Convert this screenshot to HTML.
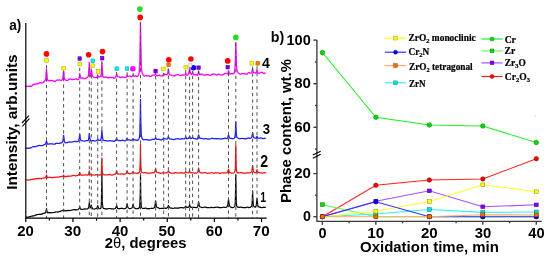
<!DOCTYPE html><html><head><meta charset="utf-8"><style>html,body{margin:0;padding:0;background:#fff;}svg{display:block;}</style></head><body><svg width="550" height="258" viewBox="0 0 550 258">
<rect width="550" height="258" fill="#fff"/>
<g fill="none" stroke-width="1.2" stroke-linejoin="round">
<path stroke="#000" stroke-width="1.2" d="M25.80,217.21 L26.30,217.16 L26.80,217.10 L27.30,217.22 L27.80,217.24 L28.30,217.20 L28.80,216.89 L29.30,216.81 L29.80,216.64 L30.30,216.70 L30.80,216.53 L31.30,216.18 L31.80,216.21 L32.30,216.07 L32.80,215.94 L33.30,215.94 L33.80,215.83 L34.30,215.72 L34.80,215.65 L35.30,215.29 L35.80,215.07 L36.30,214.88 L36.80,214.68 L37.30,214.64 L37.80,214.50 L38.30,214.46 L38.80,214.29 L39.30,214.32 L39.80,214.33 L40.30,214.42 L40.80,214.33 L41.30,214.13 L41.80,214.08 L42.30,213.85 L42.80,213.64 L43.30,213.49 L43.80,213.31 L44.30,213.20 L44.80,213.08 L45.30,212.75 L45.80,212.19 L46.30,209.52 L46.50,208.68 L46.80,210.36 L47.30,212.30 L47.80,212.85 L48.30,212.81 L48.80,212.50 L49.30,212.50 L49.80,212.71 L50.30,212.67 L50.80,212.84 L51.30,212.71 L51.80,212.61 L52.30,212.73 L52.80,212.77 L53.30,212.64 L53.80,212.53 L54.30,212.44 L54.80,212.40 L55.30,212.17 L55.80,211.92 L56.30,211.96 L56.80,211.98 L57.30,211.99 L57.80,212.12 L58.30,211.84 L58.80,211.79 L59.30,211.62 L59.80,211.44 L60.30,211.43 L60.80,211.10 L61.30,211.02 L61.80,210.72 L62.30,210.67 L62.80,210.47 L63.30,209.84 L63.60,209.38 L63.80,209.84 L64.30,210.76 L64.80,210.83 L65.30,210.94 L65.80,210.72 L66.30,210.72 L66.80,210.79 L67.30,210.68 L67.80,210.46 L68.30,210.59 L68.80,210.37 L69.30,210.42 L69.80,210.62 L70.30,210.53 L70.80,210.44 L71.30,210.20 L71.80,209.99 L72.30,209.92 L72.80,209.74 L73.30,209.78 L73.80,209.71 L74.30,209.71 L74.80,209.81 L75.30,209.71 L75.80,209.80 L76.30,209.96 L76.80,209.83 L77.30,209.75 L77.80,209.74 L78.30,209.43 L78.80,208.89 L79.30,207.91 L79.70,206.74 L79.80,206.94 L80.30,208.67 L80.80,209.05 L81.30,209.38 L81.80,209.41 L82.30,209.37 L82.80,209.35 L83.30,209.26 L83.80,209.15 L84.30,209.21 L84.80,208.85 L85.30,208.84 L85.80,208.73 L86.30,208.94 L86.80,208.98 L87.30,208.92 L87.80,208.73 L88.30,208.34 L88.80,206.44 L89.30,202.69 L89.80,206.33 L90.30,207.80 L90.80,207.30 L91.30,205.14 L91.80,207.34 L92.30,208.30 L92.80,208.87 L93.30,208.95 L93.80,209.01 L94.30,209.06 L94.80,208.99 L95.30,208.76 L95.80,208.65 L96.30,208.54 L96.80,208.24 L97.30,207.01 L97.70,205.59 L97.80,205.71 L98.30,207.69 L98.80,208.38 L99.30,208.60 L99.80,208.75 L100.30,208.65 L100.80,207.99 L101.30,205.54 L101.80,181.01 L101.90,174.01 L102.30,202.14 L102.80,207.34 L103.30,208.34 L103.80,208.42 L104.30,208.68 L104.80,208.70 L105.30,208.83 L105.80,208.83 L106.30,209.08 L106.80,208.87 L107.30,208.88 L107.80,208.75 L108.30,208.62 L108.80,208.49 L109.30,208.49 L109.80,208.58 L110.30,208.69 L110.80,208.62 L111.30,208.76 L111.80,208.88 L112.30,208.96 L112.80,208.93 L113.30,209.03 L113.80,208.96 L114.30,208.71 L114.80,208.50 L115.30,208.21 L115.80,207.82 L116.30,206.44 L116.60,205.55 L116.80,205.97 L117.30,207.87 L117.80,208.52 L118.30,208.65 L118.80,208.67 L119.30,208.61 L119.80,208.67 L120.30,208.55 L120.80,208.39 L121.30,208.38 L121.80,208.19 L122.30,208.45 L122.80,208.45 L123.30,208.74 L123.80,208.78 L124.30,208.69 L124.80,208.70 L125.30,208.50 L125.80,208.25 L126.30,207.59 L126.80,205.15 L127.10,203.77 L127.30,204.35 L127.80,206.95 L128.30,207.91 L128.80,208.18 L129.30,208.42 L129.80,208.74 L130.30,208.69 L130.80,208.50 L131.30,208.37 L131.80,207.90 L132.30,207.32 L132.80,205.30 L133.10,204.20 L133.30,204.80 L133.80,207.12 L134.30,207.92 L134.80,208.24 L135.30,208.36 L135.80,208.63 L136.30,208.72 L136.80,208.71 L137.30,208.70 L137.80,208.60 L138.30,208.40 L138.80,208.14 L139.30,207.78 L139.80,206.03 L140.30,191.57 L140.50,174.30 L140.80,198.21 L141.30,206.60 L141.80,207.82 L142.30,208.28 L142.80,208.51 L143.30,208.50 L143.80,208.37 L144.30,208.35 L144.80,208.29 L145.30,208.16 L145.80,208.18 L146.30,208.31 L146.80,208.64 L147.30,208.51 L147.80,208.71 L148.30,208.72 L148.80,208.71 L149.30,208.85 L149.80,208.62 L150.30,208.53 L150.80,208.45 L151.30,208.22 L151.80,208.37 L152.30,208.27 L152.80,208.30 L153.30,208.24 L153.80,208.18 L154.30,207.65 L154.80,206.50 L155.30,202.99 L155.60,200.80 L155.80,201.97 L156.30,205.99 L156.80,207.22 L157.30,207.50 L157.80,207.74 L158.30,207.85 L158.80,208.03 L159.30,208.37 L159.80,208.58 L160.30,208.49 L160.80,208.46 L161.30,208.38 L161.80,208.40 L162.30,208.33 L162.80,208.33 L163.30,208.32 L163.80,208.16 L164.30,208.21 L164.80,208.25 L165.30,208.12 L165.80,208.39 L166.30,208.33 L166.80,208.03 L167.30,207.76 L167.80,207.05 L168.30,205.60 L168.40,205.38 L168.80,206.37 L169.30,207.38 L169.80,207.80 L170.30,207.94 L170.80,208.07 L171.30,208.06 L171.80,208.23 L172.30,208.25 L172.80,208.43 L173.30,208.40 L173.80,208.22 L174.30,208.08 L174.80,207.85 L175.30,208.01 L175.80,208.09 L176.30,208.15 L176.80,208.06 L177.30,208.10 L177.80,207.95 L178.30,208.08 L178.80,208.07 L179.30,207.91 L179.80,207.75 L180.30,207.69 L180.80,207.57 L181.30,207.57 L181.80,207.56 L182.30,207.60 L182.80,207.93 L183.30,207.83 L183.80,207.99 L184.30,207.74 L184.80,207.55 L185.30,206.97 L185.70,206.13 L185.80,206.11 L186.30,207.06 L186.80,207.42 L187.30,207.45 L187.80,207.42 L188.30,207.31 L188.80,207.09 L189.30,205.61 L189.60,204.52 L189.80,205.24 L190.30,206.80 L190.80,207.22 L191.30,207.35 L191.80,207.29 L192.30,207.40 L192.80,207.38 L193.30,207.32 L193.80,207.38 L194.30,207.34 L194.80,207.38 L195.30,207.55 L195.80,207.77 L196.30,207.77 L196.80,207.41 L197.30,207.13 L197.80,206.23 L198.30,203.53 L198.60,201.96 L198.80,202.79 L199.30,205.65 L199.80,206.72 L200.30,207.04 L200.80,207.21 L201.30,207.20 L201.80,207.55 L202.30,207.53 L202.80,207.50 L203.30,207.50 L203.80,207.29 L204.30,207.15 L204.80,207.16 L205.30,207.08 L205.80,207.32 L206.30,207.40 L206.80,207.61 L207.30,207.66 L207.80,207.58 L208.30,207.71 L208.80,207.68 L209.30,207.74 L209.80,207.73 L210.30,207.59 L210.80,207.36 L211.30,207.28 L211.80,207.30 L212.30,207.51 L212.80,207.66 L213.30,207.48 L213.80,207.60 L214.30,207.37 L214.80,207.38 L215.30,207.37 L215.80,207.44 L216.30,207.27 L216.80,207.17 L217.30,207.18 L217.80,207.10 L218.30,207.40 L218.80,207.45 L219.30,207.70 L219.80,207.70 L220.30,207.65 L220.80,207.66 L221.30,207.58 L221.80,207.53 L222.30,207.50 L222.80,207.45 L223.30,207.26 L223.80,207.20 L224.30,207.28 L224.80,207.34 L225.30,207.39 L225.80,207.48 L226.30,207.28 L226.80,206.99 L227.30,206.19 L227.80,204.78 L228.30,200.56 L228.50,199.33 L228.80,201.66 L229.30,205.15 L229.80,206.31 L230.30,206.92 L230.80,207.02 L231.30,207.44 L231.80,207.60 L232.30,207.53 L232.80,207.53 L233.30,207.48 L233.80,207.11 L234.30,206.72 L234.80,206.19 L235.30,202.94 L235.80,174.83 L236.30,203.10 L236.80,206.13 L237.30,206.87 L237.80,207.21 L238.30,207.21 L238.80,207.32 L239.30,207.41 L239.80,207.36 L240.30,207.25 L240.80,206.99 L241.30,207.14 L241.80,207.34 L242.30,207.45 L242.80,207.61 L243.30,207.55 L243.80,207.55 L244.30,207.57 L244.80,207.58 L245.30,207.70 L245.80,207.62 L246.30,207.50 L246.80,207.25 L247.30,207.17 L247.80,207.18 L248.30,207.43 L248.80,207.56 L249.30,207.58 L249.80,207.31 L250.30,207.14 L250.80,207.14 L251.30,206.67 L251.80,205.76 L252.30,200.10 L252.60,190.92 L252.80,196.83 L253.30,205.10 L253.80,206.34 L254.30,206.80 L254.80,206.89 L255.30,207.11 L255.80,206.82 L256.30,205.26 L256.80,200.23 L257.00,198.52 L257.30,201.59 L257.80,205.50 L258.30,206.53 L258.80,206.90 L259.30,207.12 L259.80,207.05 L260.30,207.30 L260.80,207.36 L261.30,207.46 L261.80,207.61 L262.30,207.58 L262.80,207.46 L263.30,207.37 L263.80,207.22 L264.30,207.28 L264.80,207.28 L265.30,207.24 L265.80,207.49"/>
<path stroke="#ff1010" stroke-width="1.25" d="M25.80,179.80 L26.30,179.82 L26.80,179.82 L27.30,180.05 L27.80,180.14 L28.30,180.18 L28.80,180.12 L29.30,180.00 L29.80,179.69 L30.30,179.62 L30.80,179.46 L31.30,179.59 L31.80,179.32 L32.30,179.42 L32.80,179.16 L33.30,179.26 L33.80,179.18 L34.30,179.21 L34.80,179.27 L35.30,178.94 L35.80,178.74 L36.30,178.73 L36.80,178.48 L37.30,178.34 L37.80,178.59 L38.30,178.63 L38.80,178.46 L39.30,178.54 L39.80,178.49 L40.30,178.57 L40.80,178.69 L41.30,178.56 L41.80,178.58 L42.30,178.24 L42.80,178.06 L43.30,178.07 L43.80,177.92 L44.30,177.94 L44.80,177.96 L45.30,177.78 L45.80,177.26 L46.30,175.57 L46.50,175.14 L46.80,176.09 L47.30,177.33 L47.80,177.60 L48.30,177.53 L48.80,177.35 L49.30,177.25 L49.80,177.29 L50.30,177.36 L50.80,177.37 L51.30,177.56 L51.80,177.67 L52.30,177.70 L52.80,177.70 L53.30,177.55 L53.80,177.38 L54.30,177.52 L54.80,177.34 L55.30,177.25 L55.80,177.06 L56.30,177.05 L56.80,177.07 L57.30,177.24 L57.80,177.15 L58.30,177.24 L58.80,177.04 L59.30,176.98 L59.80,176.65 L60.30,176.60 L60.80,176.57 L61.30,176.61 L61.80,176.42 L62.30,176.43 L62.80,176.20 L63.30,175.59 L63.60,175.18 L63.80,175.51 L64.30,176.61 L64.80,176.74 L65.30,176.83 L65.80,176.49 L66.30,176.51 L66.80,176.28 L67.30,176.21 L67.80,176.34 L68.30,176.37 L68.80,176.10 L69.30,176.11 L69.80,176.21 L70.30,176.11 L70.80,176.07 L71.30,175.93 L71.80,175.77 L72.30,175.70 L72.80,175.62 L73.30,175.56 L73.80,175.48 L74.30,175.46 L74.80,175.62 L75.30,175.77 L75.80,175.77 L76.30,175.70 L76.80,175.59 L77.30,175.62 L77.80,175.49 L78.30,175.29 L78.80,174.76 L79.30,173.85 L79.70,172.43 L79.80,172.66 L80.30,174.16 L80.80,174.83 L81.30,175.22 L81.80,175.15 L82.30,175.27 L82.80,175.09 L83.30,175.08 L83.80,175.05 L84.30,174.89 L84.80,174.84 L85.30,174.75 L85.80,174.81 L86.30,174.84 L86.80,174.83 L87.30,175.13 L87.80,175.03 L88.30,174.68 L88.80,173.48 L89.30,170.76 L89.80,173.43 L90.30,174.47 L90.80,174.81 L91.30,174.98 L91.80,175.00 L92.30,174.94 L92.80,174.89 L93.30,175.02 L93.80,175.21 L94.30,175.24 L94.80,175.14 L95.30,174.95 L95.80,174.79 L96.30,174.77 L96.80,174.70 L97.30,174.62 L97.80,174.85 L98.30,174.95 L98.80,174.95 L99.30,175.02 L99.80,175.08 L100.30,175.00 L100.80,174.85 L101.30,173.56 L101.80,161.36 L101.90,157.93 L102.30,171.56 L102.80,174.02 L103.30,174.60 L103.80,174.74 L104.30,174.85 L104.80,174.94 L105.30,174.83 L105.80,174.91 L106.30,174.95 L106.80,174.89 L107.30,174.85 L107.80,174.81 L108.30,174.67 L108.80,174.63 L109.30,174.44 L109.80,174.49 L110.30,174.68 L110.80,174.91 L111.30,175.02 L111.80,175.01 L112.30,175.03 L112.80,174.83 L113.30,174.69 L113.80,174.72 L114.30,174.58 L114.80,174.29 L115.30,174.07 L115.80,173.39 L116.30,171.79 L116.60,170.91 L116.80,171.42 L117.30,173.51 L117.80,173.94 L118.30,174.17 L118.80,174.11 L119.30,174.00 L119.80,173.99 L120.30,173.91 L120.80,174.05 L121.30,173.91 L121.80,173.92 L122.30,173.80 L122.80,173.95 L123.30,174.12 L123.80,174.30 L124.30,174.19 L124.80,174.13 L125.30,174.00 L125.80,173.68 L126.30,173.01 L126.80,171.75 L127.10,170.94 L127.30,171.41 L127.80,172.78 L128.30,173.31 L128.80,173.44 L129.30,173.58 L129.80,173.56 L130.30,173.64 L130.80,173.52 L131.30,173.46 L131.80,173.11 L132.30,172.78 L132.80,172.02 L133.10,171.65 L133.30,171.84 L133.80,172.65 L134.30,173.02 L134.80,173.24 L135.30,173.23 L135.80,173.22 L136.30,173.44 L136.80,173.33 L137.30,173.43 L137.80,173.18 L138.30,172.86 L138.80,172.65 L139.30,172.18 L139.80,170.69 L140.30,158.70 L140.50,144.38 L140.80,164.39 L141.30,171.49 L141.80,172.41 L142.30,172.71 L142.80,172.72 L143.30,172.82 L143.80,172.75 L144.30,172.74 L144.80,172.66 L145.30,172.61 L145.80,172.65 L146.30,172.89 L146.80,172.94 L147.30,173.12 L147.80,173.21 L148.30,173.36 L148.80,173.18 L149.30,173.00 L149.80,173.14 L150.30,173.11 L150.80,173.03 L151.30,172.82 L151.80,172.82 L152.30,172.69 L152.80,172.70 L153.30,172.94 L153.80,172.92 L154.30,172.54 L154.80,172.00 L155.30,169.74 L155.60,168.61 L155.80,169.15 L156.30,171.28 L156.80,172.11 L157.30,172.43 L157.80,172.72 L158.30,172.72 L158.80,172.81 L159.30,172.95 L159.80,173.15 L160.30,173.39 L160.80,173.33 L161.30,173.10 L161.80,173.07 L162.30,172.90 L162.80,172.83 L163.30,172.86 L163.80,172.94 L164.30,173.00 L164.80,172.92 L165.30,172.93 L165.80,172.90 L166.30,172.95 L166.80,172.85 L167.30,172.66 L167.80,172.11 L168.30,170.88 L168.40,170.72 L168.80,171.44 L169.30,172.36 L169.80,172.62 L170.30,172.96 L170.80,173.10 L171.30,173.25 L171.80,173.22 L172.30,173.17 L172.80,173.19 L173.30,173.23 L173.80,173.21 L174.30,173.11 L174.80,172.79 L175.30,172.67 L175.80,172.69 L176.30,172.78 L176.80,172.89 L177.30,172.96 L177.80,173.01 L178.30,172.90 L178.80,172.96 L179.30,172.89 L179.80,172.96 L180.30,172.94 L180.80,172.85 L181.30,172.86 L181.80,172.64 L182.30,172.78 L182.80,173.11 L183.30,173.16 L183.80,173.18 L184.30,173.23 L184.80,172.88 L185.30,172.22 L185.70,171.51 L185.80,171.51 L186.30,172.29 L186.80,172.57 L187.30,172.75 L187.80,172.80 L188.30,172.72 L188.80,172.47 L189.30,171.71 L189.60,171.00 L189.80,171.38 L190.30,172.51 L190.80,172.91 L191.30,172.80 L191.80,172.72 L192.30,172.52 L192.80,172.61 L193.30,172.76 L193.80,172.92 L194.30,173.01 L194.80,173.04 L195.30,172.99 L195.80,173.06 L196.30,173.20 L196.80,173.14 L197.30,172.69 L197.80,171.79 L198.30,169.63 L198.60,168.23 L198.80,168.90 L199.30,171.30 L199.80,172.18 L200.30,172.60 L200.80,172.82 L201.30,172.76 L201.80,172.88 L202.30,173.00 L202.80,172.99 L203.30,172.87 L203.80,172.86 L204.30,172.68 L204.80,172.75 L205.30,172.73 L205.80,172.73 L206.30,173.00 L206.80,173.19 L207.30,173.28 L207.80,173.24 L208.30,173.18 L208.80,173.14 L209.30,173.26 L209.80,173.06 L210.30,173.02 L210.80,172.89 L211.30,172.72 L211.80,172.74 L212.30,172.75 L212.80,172.91 L213.30,173.03 L213.80,173.06 L214.30,173.15 L214.80,172.88 L215.30,172.80 L215.80,172.84 L216.30,172.79 L216.80,172.84 L217.30,172.89 L217.80,172.76 L218.30,172.96 L218.80,172.95 L219.30,173.15 L219.80,173.41 L220.30,173.48 L220.80,173.31 L221.30,173.03 L221.80,172.94 L222.30,172.81 L222.80,172.93 L223.30,172.80 L223.80,172.78 L224.30,172.87 L224.80,172.86 L225.30,172.87 L225.80,172.89 L226.30,173.02 L226.80,172.78 L227.30,172.57 L227.80,171.66 L228.30,169.72 L228.50,169.19 L228.80,170.15 L229.30,171.92 L229.80,172.58 L230.30,172.76 L230.80,172.97 L231.30,173.09 L231.80,173.08 L232.30,173.16 L232.80,173.14 L233.30,173.07 L233.80,172.76 L234.30,172.37 L234.80,171.59 L235.30,169.03 L235.80,144.80 L236.30,169.19 L236.80,171.92 L237.30,172.66 L237.80,172.81 L238.30,172.69 L238.80,172.88 L239.30,172.81 L239.80,172.79 L240.30,172.74 L240.80,172.72 L241.30,172.62 L241.80,172.69 L242.30,172.87 L242.80,173.10 L243.30,173.20 L243.80,173.22 L244.30,173.32 L244.80,173.10 L245.30,173.03 L245.80,173.00 L246.30,173.02 L246.80,172.77 L247.30,172.70 L247.80,172.79 L248.30,172.80 L248.80,172.88 L249.30,172.88 L249.80,172.86 L250.30,172.71 L250.80,172.60 L251.30,172.06 L251.80,170.92 L252.30,167.80 L252.60,165.79 L252.80,166.79 L253.30,170.64 L253.80,172.04 L254.30,172.32 L254.80,172.68 L255.30,172.71 L255.80,172.86 L256.30,172.40 L256.80,170.39 L257.00,169.66 L257.30,170.74 L257.80,172.03 L258.30,172.45 L258.80,172.54 L259.30,172.66 L259.80,172.69 L260.30,172.95 L260.80,172.87 L261.30,172.90 L261.80,173.01 L262.30,173.08 L262.80,173.02 L263.30,172.98 L263.80,172.95 L264.30,172.72 L264.80,172.81 L265.30,172.68 L265.80,173.02"/>
<path stroke="#1a1aff" stroke-width="1.25" d="M25.80,148.52 L26.30,148.28 L26.80,148.11 L27.30,148.12 L27.80,148.31 L28.30,148.22 L28.80,148.30 L29.30,148.13 L29.80,148.02 L30.30,147.93 L30.80,147.90 L31.30,147.67 L31.80,147.28 L32.30,147.05 L32.80,146.74 L33.30,146.74 L33.80,146.67 L34.30,146.68 L34.80,146.69 L35.30,146.60 L35.80,146.51 L36.30,146.28 L36.80,145.98 L37.30,146.01 L37.80,145.82 L38.30,145.78 L38.80,145.60 L39.30,145.46 L39.80,145.42 L40.30,145.51 L40.80,145.60 L41.30,145.63 L41.80,145.75 L42.30,145.56 L42.80,145.35 L43.30,145.03 L43.80,144.80 L44.30,144.68 L44.80,144.34 L45.30,144.15 L45.80,143.43 L46.30,141.40 L46.50,140.85 L46.80,141.97 L47.30,143.67 L47.80,144.07 L48.30,144.21 L48.80,144.15 L49.30,143.92 L49.80,143.72 L50.30,143.76 L50.80,143.75 L51.30,143.84 L51.80,143.90 L52.30,143.97 L52.80,143.92 L53.30,144.10 L53.80,144.23 L54.30,144.10 L54.80,144.09 L55.30,143.93 L55.80,143.45 L56.30,143.27 L56.80,143.33 L57.30,143.35 L57.80,143.36 L58.30,143.26 L58.80,143.29 L59.30,143.31 L59.80,143.24 L60.30,143.16 L60.80,142.94 L61.30,142.95 L61.80,142.55 L62.30,142.15 L62.80,141.03 L63.30,137.98 L63.60,135.46 L63.80,136.90 L64.30,141.13 L64.80,142.25 L65.30,142.72 L65.80,142.78 L66.30,142.73 L66.80,142.61 L67.30,142.62 L67.80,142.42 L68.30,142.26 L68.80,142.05 L69.30,142.04 L69.80,141.88 L70.30,141.98 L70.80,142.05 L71.30,142.23 L71.80,142.14 L72.30,141.97 L72.80,141.67 L73.30,141.64 L73.80,141.56 L74.30,141.48 L74.80,141.42 L75.30,141.62 L75.80,141.38 L76.30,141.45 L76.80,141.52 L77.30,141.65 L77.80,141.43 L78.30,141.16 L78.80,140.23 L79.30,137.66 L79.70,134.07 L79.80,134.30 L80.30,138.65 L80.80,140.12 L81.30,140.69 L81.80,140.76 L82.30,140.82 L82.80,140.94 L83.30,140.96 L83.80,141.00 L84.30,141.14 L84.80,141.17 L85.30,140.97 L85.80,140.69 L86.30,140.70 L86.80,140.74 L87.30,140.64 L87.80,140.65 L88.30,140.09 L88.80,138.04 L89.30,133.53 L89.80,138.10 L90.30,140.16 L90.80,140.77 L91.30,140.81 L91.80,140.81 L92.30,140.61 L92.80,140.70 L93.30,140.72 L93.80,140.71 L94.30,141.02 L94.80,140.94 L95.30,140.97 L95.80,140.90 L96.30,140.72 L96.80,140.49 L97.30,139.78 L97.70,138.77 L97.80,138.78 L98.30,140.14 L98.80,140.27 L99.30,140.52 L99.80,140.42 L100.30,140.39 L100.80,139.92 L101.30,137.69 L101.80,130.85 L101.90,130.32 L102.30,135.44 L102.80,139.14 L103.30,140.22 L103.80,140.58 L104.30,140.48 L104.80,140.62 L105.30,140.51 L105.80,140.69 L106.30,140.68 L106.80,140.98 L107.30,141.04 L107.80,140.98 L108.30,140.88 L108.80,140.79 L109.30,140.82 L109.80,140.62 L110.30,140.74 L110.80,140.79 L111.30,140.85 L111.80,141.00 L112.30,140.90 L112.80,141.10 L113.30,141.19 L113.80,141.31 L114.30,141.14 L114.80,141.02 L115.30,140.54 L115.80,140.04 L116.30,138.90 L116.60,138.21 L116.80,138.65 L117.30,139.95 L117.80,140.23 L118.30,140.39 L118.80,140.54 L119.30,140.65 L119.80,140.64 L120.30,140.63 L120.80,140.77 L121.30,140.50 L121.80,140.30 L122.30,140.19 L122.80,140.19 L123.30,140.49 L123.80,140.51 L124.30,140.78 L124.80,140.84 L125.30,140.78 L125.80,140.54 L126.30,140.03 L126.80,138.89 L127.10,138.11 L127.30,138.51 L127.80,139.65 L128.30,139.81 L128.80,139.95 L129.30,139.83 L129.80,140.00 L130.30,140.32 L130.80,140.30 L131.30,140.24 L131.80,140.21 L132.30,139.84 L132.80,139.06 L133.10,138.79 L133.30,138.87 L133.80,139.61 L134.30,139.84 L134.80,140.02 L135.30,139.87 L135.80,140.07 L136.30,140.20 L136.80,140.22 L137.30,140.38 L137.80,140.17 L138.30,139.72 L138.80,139.01 L139.30,137.81 L139.80,134.16 L140.30,112.54 L140.50,99.31 L140.80,120.35 L141.30,135.16 L141.80,137.91 L142.30,138.75 L142.80,139.32 L143.30,139.51 L143.80,139.89 L144.30,139.76 L144.80,139.66 L145.30,139.65 L145.80,139.51 L146.30,139.69 L146.80,139.71 L147.30,139.85 L147.80,140.02 L148.30,139.92 L148.80,140.07 L149.30,140.10 L149.80,140.08 L150.30,140.20 L150.80,139.85 L151.30,139.84 L151.80,139.43 L152.30,139.44 L152.80,139.24 L153.30,139.28 L153.80,139.44 L154.30,139.50 L154.80,139.03 L155.30,138.07 L155.60,137.45 L155.80,137.79 L156.30,138.87 L156.80,139.33 L157.30,139.30 L157.80,139.36 L158.30,139.36 L158.80,139.25 L159.30,139.32 L159.80,139.47 L160.30,139.80 L160.80,139.82 L161.30,139.90 L161.80,139.71 L162.30,139.36 L162.80,139.29 L163.30,138.67 L163.70,137.90 L163.80,138.01 L164.30,138.71 L164.80,138.87 L165.30,138.93 L165.80,138.99 L166.30,139.10 L166.80,139.09 L167.30,138.93 L167.80,138.40 L168.30,136.70 L168.40,136.54 L168.80,137.45 L169.30,138.54 L169.80,138.87 L170.30,139.01 L170.80,139.16 L171.30,139.23 L171.80,139.16 L172.30,139.37 L172.80,139.43 L173.30,139.56 L173.80,139.53 L174.30,139.52 L174.80,139.18 L175.30,139.08 L175.80,138.80 L176.30,138.85 L176.80,138.94 L177.30,138.91 L177.80,138.85 L178.30,138.78 L178.80,138.91 L179.30,138.97 L179.80,139.14 L180.30,139.15 L180.80,139.11 L181.30,138.83 L181.80,138.69 L182.30,138.70 L182.80,138.83 L183.30,138.80 L183.80,138.93 L184.30,138.87 L184.80,138.63 L185.30,137.69 L185.70,136.71 L185.80,136.92 L186.30,138.10 L186.80,138.75 L187.30,138.61 L187.80,138.42 L188.30,138.38 L188.80,137.83 L189.30,136.84 L189.60,136.20 L189.80,136.63 L190.30,138.08 L190.80,138.56 L191.30,138.54 L191.80,138.29 L192.30,137.40 L192.60,136.88 L192.80,137.28 L193.30,138.19 L193.80,138.50 L194.30,138.62 L194.80,138.70 L195.30,138.70 L195.80,138.84 L196.30,138.99 L196.80,139.06 L197.30,138.88 L197.80,138.02 L198.30,136.02 L198.60,134.92 L198.80,135.48 L199.30,137.47 L199.80,138.15 L200.30,138.42 L200.80,138.33 L201.30,138.47 L201.80,138.47 L202.30,138.60 L202.80,138.74 L203.30,138.88 L203.80,138.97 L204.30,138.87 L204.80,138.81 L205.30,138.57 L205.80,138.67 L206.30,138.60 L206.80,138.83 L207.30,138.79 L207.80,138.99 L208.30,139.06 L208.80,138.96 L209.30,139.18 L209.80,139.07 L210.30,139.00 L210.80,138.76 L211.30,138.61 L211.80,138.36 L212.30,138.45 L212.80,138.48 L213.30,138.55 L213.80,138.70 L214.30,138.62 L214.80,138.66 L215.30,138.70 L215.80,138.67 L216.30,138.92 L216.80,138.70 L217.30,138.60 L217.80,138.64 L218.30,138.59 L218.80,138.56 L219.30,138.71 L219.80,138.83 L220.30,138.91 L220.80,139.04 L221.30,138.90 L221.80,138.79 L222.30,138.89 L222.80,138.61 L223.30,138.59 L223.80,138.53 L224.30,138.37 L224.80,138.13 L225.30,138.30 L225.80,138.38 L226.30,138.52 L226.80,138.60 L227.30,138.33 L227.80,137.52 L228.30,135.46 L228.50,134.81 L228.80,135.85 L229.30,137.57 L229.80,138.20 L230.30,138.35 L230.80,138.36 L231.30,138.32 L231.80,138.60 L232.30,138.64 L232.80,138.77 L233.30,138.73 L233.80,138.59 L234.30,138.11 L234.80,137.33 L235.30,134.26 L235.80,121.72 L236.30,134.21 L236.80,137.15 L237.30,137.75 L237.80,138.04 L238.30,138.28 L238.80,138.46 L239.30,138.64 L239.80,138.76 L240.30,138.64 L240.80,138.51 L241.30,138.29 L241.80,138.26 L242.30,138.37 L242.80,138.52 L243.30,138.74 L243.80,138.60 L244.30,138.70 L244.80,138.79 L245.30,138.74 L245.80,138.84 L246.30,138.62 L246.80,138.61 L247.30,138.31 L247.80,138.14 L248.30,137.91 L248.80,138.02 L249.30,138.23 L249.80,138.32 L250.30,138.28 L250.80,138.11 L251.30,137.69 L251.80,136.99 L252.30,134.27 L252.60,132.64 L252.80,133.56 L253.30,136.62 L253.80,137.54 L254.30,137.94 L254.80,137.91 L255.30,138.26 L255.80,138.15 L256.30,138.17 L256.80,136.79 L257.00,136.30 L257.30,137.07 L257.80,138.15 L258.30,138.22 L258.80,138.23 L259.30,138.11 L259.80,138.24 L260.30,138.13 L260.80,137.97 L261.30,137.96 L261.80,138.16 L262.30,138.47 L262.80,138.62 L263.30,138.58 L263.80,138.42 L264.30,138.49 L264.80,138.24 L265.30,138.34 L265.80,138.33"/>
<path stroke="#ff00ff" stroke-width="1.3" d="M25.80,86.96 L26.30,86.52 L26.80,86.33 L27.30,86.18 L27.80,86.12 L28.30,86.34 L28.80,86.31 L29.30,86.40 L29.80,86.16 L30.30,86.20 L30.80,86.43 L31.30,86.19 L31.80,85.87 L32.30,85.52 L32.80,84.89 L33.30,84.28 L33.80,84.18 L34.30,84.21 L34.80,84.15 L35.30,84.32 L35.80,84.06 L36.30,83.97 L36.80,83.76 L37.30,83.71 L37.80,83.85 L38.30,83.47 L38.80,83.30 L39.30,82.76 L39.80,82.57 L40.30,82.64 L40.80,82.79 L41.30,82.85 L41.80,83.09 L42.30,82.97 L42.80,82.52 L43.30,82.12 L43.80,82.01 L44.30,81.57 L44.80,81.00 L45.30,80.21 L45.80,78.14 L46.30,71.46 L46.50,68.81 L46.80,73.35 L47.30,78.63 L47.80,80.39 L48.30,80.75 L48.80,80.91 L49.30,80.67 L49.80,80.66 L50.30,80.36 L50.80,80.51 L51.30,80.45 L51.80,80.60 L52.30,80.67 L52.80,80.67 L53.30,80.82 L53.80,81.12 L54.30,81.38 L54.80,81.51 L55.30,81.16 L55.80,80.87 L56.30,80.35 L56.80,80.23 L57.30,80.13 L57.80,79.88 L58.30,79.92 L58.80,80.07 L59.30,80.02 L59.80,79.91 L60.30,80.27 L60.80,80.48 L61.30,80.30 L61.80,79.98 L62.30,79.41 L62.80,78.27 L63.30,74.10 L63.60,70.87 L63.80,72.77 L64.30,77.93 L64.80,79.56 L65.30,80.04 L65.80,80.17 L66.30,80.27 L66.80,80.20 L67.30,80.29 L67.80,80.38 L68.30,79.97 L68.80,79.45 L69.30,79.25 L69.80,78.88 L70.30,78.92 L70.80,79.11 L71.30,79.40 L71.80,79.54 L72.30,79.51 L72.80,79.59 L73.30,79.33 L73.80,79.30 L74.30,79.38 L74.80,79.36 L75.30,78.99 L75.80,78.97 L76.30,78.84 L76.80,79.11 L77.30,79.43 L77.80,79.74 L78.30,79.58 L78.80,78.85 L79.30,76.82 L79.70,73.60 L79.80,73.84 L80.30,77.15 L80.80,78.15 L81.30,78.16 L81.80,78.14 L82.30,77.90 L82.80,78.10 L83.30,78.20 L83.80,78.40 L84.30,78.86 L84.80,78.76 L85.30,78.52 L85.80,78.15 L86.30,77.77 L86.80,77.58 L87.30,77.55 L87.80,76.98 L88.30,75.75 L88.80,71.42 L89.30,62.49 L89.80,71.47 L90.30,75.72 L90.80,76.44 L91.30,73.28 L91.60,70.37 L91.80,71.91 L92.30,75.95 L92.80,76.63 L93.30,76.87 L93.80,77.07 L94.30,77.49 L94.80,77.49 L95.30,77.71 L95.80,77.59 L96.30,77.70 L96.80,77.58 L97.30,76.57 L97.70,74.97 L97.80,75.27 L98.30,76.94 L98.80,77.13 L99.30,76.84 L99.80,76.85 L100.30,76.67 L100.80,76.05 L101.30,73.16 L101.80,63.95 L101.90,63.08 L102.30,69.83 L102.80,75.38 L103.30,76.95 L103.80,77.32 L104.30,77.28 L104.80,77.36 L105.30,76.98 L105.80,76.97 L106.30,76.99 L106.80,77.26 L107.30,77.66 L107.80,77.68 L108.30,77.97 L108.80,77.71 L109.30,77.51 L109.80,77.49 L110.30,77.55 L110.80,77.39 L111.30,77.49 L111.80,77.51 L112.30,77.40 L112.80,77.54 L113.30,77.75 L113.80,78.25 L114.30,78.16 L114.80,78.12 L115.30,77.62 L115.80,76.63 L116.30,75.27 L116.60,74.06 L116.80,74.44 L117.30,76.24 L117.80,76.69 L118.30,76.80 L118.80,76.84 L119.30,76.85 L119.80,77.12 L120.30,77.39 L120.80,77.73 L121.30,77.40 L121.80,77.17 L122.30,77.11 L122.80,76.90 L123.30,76.92 L123.80,77.19 L124.30,77.26 L124.80,77.46 L125.30,77.33 L125.80,77.37 L126.30,76.84 L126.80,75.83 L127.10,75.01 L127.30,75.43 L127.80,76.65 L128.30,76.53 L128.80,76.30 L129.30,76.18 L129.80,76.04 L130.30,76.19 L130.80,76.38 L131.30,76.75 L131.80,76.58 L132.30,76.29 L132.80,75.50 L133.10,74.94 L133.30,75.15 L133.80,76.17 L134.30,76.35 L134.80,76.21 L135.30,76.17 L135.80,75.88 L136.30,75.93 L136.80,76.38 L137.30,76.43 L137.80,76.11 L138.30,75.69 L138.80,74.43 L139.30,71.81 L139.80,64.31 L140.30,34.14 L140.50,22.39 L140.80,42.89 L141.30,66.04 L141.80,71.44 L142.30,73.34 L142.80,74.21 L143.30,75.06 L143.80,75.76 L144.30,75.99 L144.80,76.09 L145.30,75.89 L145.80,75.82 L146.30,75.64 L146.80,75.75 L147.30,75.94 L147.80,75.82 L148.30,75.79 L148.80,75.98 L149.30,75.99 L149.80,76.44 L150.30,76.45 L150.80,76.61 L151.30,76.21 L151.80,75.64 L152.30,75.33 L152.80,75.13 L153.30,75.03 L153.80,75.13 L154.30,75.06 L154.80,75.00 L155.30,73.81 L155.60,73.27 L155.80,73.81 L156.30,75.03 L156.80,75.74 L157.30,75.77 L157.80,75.67 L158.30,75.54 L158.80,75.40 L159.30,75.19 L159.80,75.41 L160.30,75.72 L160.80,75.99 L161.30,75.98 L161.80,75.91 L162.30,75.90 L162.80,75.53 L163.30,74.66 L163.70,73.63 L163.80,73.78 L164.30,74.75 L164.80,74.61 L165.30,74.29 L165.80,74.32 L166.30,74.65 L166.80,74.61 L167.30,74.50 L167.80,73.45 L168.30,69.34 L168.40,69.13 L168.80,72.09 L169.30,74.15 L169.80,74.87 L170.30,75.18 L170.80,75.07 L171.30,75.19 L171.80,75.03 L172.30,75.23 L172.80,75.51 L173.30,75.65 L173.80,76.11 L174.30,76.08 L174.80,75.64 L175.30,75.39 L175.80,74.97 L176.30,74.89 L176.80,74.87 L177.30,74.68 L177.80,74.64 L178.30,74.48 L178.80,74.80 L179.30,75.01 L179.80,75.43 L180.30,75.46 L180.80,75.69 L181.30,75.29 L181.80,75.14 L182.30,74.84 L182.80,75.02 L183.30,74.88 L183.80,75.10 L184.30,75.08 L184.80,74.80 L185.30,73.80 L185.70,72.80 L185.80,73.01 L186.30,74.81 L186.80,75.18 L187.30,75.26 L187.80,74.66 L188.30,73.97 L188.80,73.01 L189.30,70.24 L189.60,67.67 L189.80,69.24 L190.30,73.09 L190.80,73.97 L191.30,74.36 L191.80,74.04 L192.30,72.66 L192.60,71.55 L192.80,72.34 L193.30,74.40 L193.80,74.80 L194.30,74.87 L194.80,74.75 L195.30,74.69 L195.80,74.79 L196.30,74.91 L196.80,75.09 L197.30,75.32 L197.80,74.62 L198.30,72.63 L198.60,71.28 L198.80,72.00 L199.30,73.96 L199.80,74.61 L200.30,74.56 L200.80,74.45 L201.30,74.00 L201.80,74.15 L202.30,74.19 L202.80,74.59 L203.30,74.87 L203.80,75.11 L204.30,75.15 L204.80,74.97 L205.30,75.04 L205.80,74.70 L206.30,74.75 L206.80,74.88 L207.30,74.71 L207.80,74.64 L208.30,74.64 L208.80,74.78 L209.30,74.98 L209.80,75.43 L210.30,75.46 L210.80,75.13 L211.30,74.90 L211.80,74.38 L212.30,74.01 L212.80,74.15 L213.30,73.97 L213.80,74.19 L214.30,74.22 L214.80,74.05 L215.30,74.47 L215.80,74.63 L216.30,74.92 L216.80,75.17 L217.30,74.89 L217.80,74.54 L218.30,74.19 L218.80,74.32 L219.30,74.28 L219.80,74.58 L220.30,74.75 L220.80,74.93 L221.30,74.90 L221.80,74.87 L222.30,74.74 L222.80,74.85 L223.30,74.54 L223.80,74.17 L224.30,73.89 L224.80,73.33 L225.30,73.46 L225.80,73.37 L226.30,73.67 L226.80,73.85 L227.30,73.83 L227.80,73.31 L228.30,71.33 L228.50,70.59 L228.80,71.64 L229.30,73.45 L229.80,73.89 L230.30,74.13 L230.80,73.80 L231.30,73.61 L231.80,73.71 L232.30,73.68 L232.80,73.88 L233.30,73.93 L233.80,73.53 L234.30,72.68 L234.80,70.18 L235.30,62.44 L235.80,42.33 L236.30,62.15 L236.80,69.59 L237.30,71.49 L237.80,72.10 L238.30,72.69 L238.80,73.17 L239.30,73.69 L239.80,74.04 L240.30,74.13 L240.80,74.01 L241.30,73.93 L241.80,73.63 L242.30,73.66 L242.80,73.61 L243.30,73.68 L243.80,73.60 L244.30,73.80 L244.80,73.70 L245.30,73.90 L245.80,74.15 L246.30,74.27 L246.80,74.17 L247.30,73.71 L247.80,73.12 L248.30,72.95 L248.80,72.54 L249.30,72.72 L249.80,73.02 L250.30,73.11 L250.80,73.03 L251.30,72.98 L251.80,72.29 L252.30,70.22 L252.60,68.89 L252.80,69.72 L253.30,72.56 L253.80,72.86 L254.30,72.88 L254.80,72.80 L255.30,72.70 L255.80,72.97 L256.30,72.51 L256.80,70.58 L257.00,69.92 L257.30,71.50 L257.80,72.74 L258.30,73.09 L258.80,73.18 L259.30,73.28 L259.80,72.96 L260.30,72.74 L260.80,72.49 L261.30,72.26 L261.80,72.40 L262.30,72.47 L262.80,73.04 L263.30,73.19 L263.80,73.53 L264.30,73.22 L264.80,73.12 L265.30,73.16 L265.80,73.21"/>
</g>
<g stroke="#505050" stroke-width="1" stroke-dasharray="3.4 3.15" fill="none"><line x1="46.5" y1="65.0" x2="46.5" y2="218.1" stroke-dashoffset="6.40"/><line x1="63.6" y1="71.0" x2="63.6" y2="218.1" stroke-dashoffset="6.25"/><line x1="79.7" y1="67.0" x2="79.7" y2="218.1" stroke-dashoffset="5.80"/><line x1="89.3" y1="66.0" x2="89.3" y2="218.1" stroke-dashoffset="4.95"/><line x1="91.3" y1="68.5" x2="91.3" y2="218.1" stroke-dashoffset="6.55"/><line x1="97.7" y1="74.5" x2="97.7" y2="218.1" stroke-dashoffset="5.25"/><line x1="101.9" y1="61.0" x2="101.9" y2="218.1" stroke-dashoffset="0.05"/><line x1="116.6" y1="71.5" x2="116.6" y2="218.1" stroke-dashoffset="6.10"/><line x1="127.1" y1="71.5" x2="127.1" y2="218.1" stroke-dashoffset="5.80"/><line x1="133.1" y1="72.0" x2="133.1" y2="218.1" stroke-dashoffset="5.70"/><line x1="140.5" y1="21.0" x2="140.5" y2="218.1" stroke-dashoffset="5.10"/><line x1="155.6" y1="74.0" x2="155.6" y2="218.1" stroke-dashoffset="4.55"/><line x1="163.7" y1="72.0" x2="163.7" y2="218.1" stroke-dashoffset="5.60"/><line x1="168.4" y1="67.5" x2="168.4" y2="218.1" stroke-dashoffset="5.15"/><line x1="185.7" y1="70.0" x2="185.7" y2="218.1" stroke-dashoffset="0.80"/><line x1="189.6" y1="68.0" x2="189.6" y2="218.1" stroke-dashoffset="4.45"/><line x1="192.6" y1="71.0" x2="192.6" y2="218.1" stroke-dashoffset="1.80"/><line x1="198.6" y1="70.5" x2="198.6" y2="218.1" stroke-dashoffset="0.10"/><line x1="228.5" y1="70.0" x2="228.5" y2="218.1" stroke-dashoffset="3.70"/><line x1="235.8" y1="40.5" x2="235.8" y2="218.1" stroke-dashoffset="4.15"/><line x1="252.6" y1="66.0" x2="252.6" y2="218.1" stroke-dashoffset="5.85"/><line x1="257.0" y1="66.0" x2="257.0" y2="218.1" stroke-dashoffset="6.25"/></g>
<circle cx="46.5" cy="53.9" r="2.8" fill="#ff0000"/>
<circle cx="88.6" cy="54.8" r="2.8" fill="#ff0000"/>
<circle cx="102.5" cy="51.6" r="2.8" fill="#ff0000"/>
<circle cx="139.8" cy="9.1" r="2.8" fill="#22dd22"/>
<circle cx="140.2" cy="17.4" r="2.8" fill="#ff0000"/>
<circle cx="132.8" cy="68.7" r="2.8" fill="#ff00ff"/>
<circle cx="168.8" cy="59.8" r="2.8" fill="#ff0000"/>
<circle cx="190.9" cy="59.0" r="2.8" fill="#ff0000"/>
<circle cx="193.4" cy="67.7" r="2.8" fill="#0000ff"/>
<circle cx="227.7" cy="60.9" r="2.8" fill="#ff0000"/>
<circle cx="235.8" cy="37.4" r="2.8" fill="#22dd22"/>
<rect x="44.75" y="58.55" width="3.5" height="3.7" fill="#ffff00" stroke="#a0a000" stroke-width="0.5"/>
<rect x="61.85" y="66.35" width="3.5" height="3.7" fill="#ffff00" stroke="#a0a000" stroke-width="0.5"/>
<rect x="77.95" y="56.75" width="3.5" height="3.7" fill="#7a00ee" stroke="#5000a0" stroke-width="0.5"/>
<rect x="77.95" y="62.25" width="3.5" height="3.7" fill="#ffff00" stroke="#a0a000" stroke-width="0.5"/>
<rect x="90.95" y="58.95" width="3.5" height="3.7" fill="#00f0f0" stroke="#009a9a" stroke-width="0.5"/>
<rect x="90.95" y="63.85" width="3.5" height="3.7" fill="#ffff00" stroke="#a0a000" stroke-width="0.5"/>
<rect x="96.25" y="69.65" width="3.5" height="3.7" fill="#ffff00" stroke="#a0a000" stroke-width="0.5"/>
<rect x="100.45" y="56.35" width="3.5" height="3.7" fill="#7a00ee" stroke="#5000a0" stroke-width="0.5"/>
<rect x="114.95" y="66.85" width="3.5" height="3.7" fill="#00f0f0" stroke="#009a9a" stroke-width="0.5"/>
<rect x="125.25" y="66.85" width="3.5" height="3.7" fill="#00f0f0" stroke="#009a9a" stroke-width="0.5"/>
<rect x="153.85" y="69.15" width="3.5" height="3.7" fill="#7a00ee" stroke="#5000a0" stroke-width="0.5"/>
<rect x="161.65" y="67.15" width="3.5" height="3.7" fill="#ffff00" stroke="#a0a000" stroke-width="0.5"/>
<rect x="166.85" y="62.95" width="3.5" height="3.7" fill="#ff7700" stroke="#a05000" stroke-width="0.5"/>
<rect x="183.95" y="65.25" width="3.5" height="3.7" fill="#ffff00" stroke="#a0a000" stroke-width="0.5"/>
<rect x="188.35" y="63.35" width="3.5" height="3.7" fill="#eeeeee" stroke="#c0c0c0" stroke-width="0.5"/>
<rect x="196.85" y="65.85" width="3.5" height="3.7" fill="#7a00ee" stroke="#5000a0" stroke-width="0.5"/>
<rect x="225.95" y="65.25" width="3.5" height="3.7" fill="#7a00ee" stroke="#5000a0" stroke-width="0.5"/>
<rect x="249.95" y="61.45" width="3.5" height="3.7" fill="#ffff00" stroke="#a0a000" stroke-width="0.5"/>
<rect x="255.95" y="61.45" width="3.5" height="3.7" fill="#ff7700" stroke="#a05000" stroke-width="0.5"/>
<g stroke="#000" stroke-width="1.2" fill="none">
<path d="M25.8,23.0 V218.1 H266.7"/>
<path d="M25.80,218.1 v4"/>
<path d="M49.38,218.1 v2.5"/>
<path d="M72.95,218.1 v4"/>
<path d="M96.52,218.1 v2.5"/>
<path d="M120.10,218.1 v4"/>
<path d="M143.68,218.1 v2.5"/>
<path d="M167.25,218.1 v4"/>
<path d="M190.83,218.1 v2.5"/>
<path d="M214.40,218.1 v4"/>
<path d="M237.97,218.1 v2.5"/>
<path d="M261.55,218.1 v4"/>
</g>
<g stroke="#000" stroke-width="1.1"><line x1="22" y1="123" x2="28.9" y2="115.6"/><line x1="22.2" y1="126.5" x2="29.4" y2="118.6"/></g>
<g stroke="#3a3a3a" stroke-width="1.35" fill="none">
<path d="M316.9,40.1 V221.3 H541.7"/>
<path d="M316.9,40.10 h-3.5"/>
<path d="M316.9,83.70 h-3.5"/>
<path d="M316.9,127.30 h-3.5"/>
<path d="M316.9,61.90 h-2"/>
<path d="M316.9,105.50 h-2"/>
<path d="M316.9,149.10 h-2"/>
<path d="M316.9,173.60 h-3.5"/>
<path d="M316.9,216.70 h-3.5"/>
<path d="M316.9,195.15 h-2"/>
<path d="M322.40,221.3 v3.5"/>
<path d="M349.13,221.3 v2"/>
<path d="M375.87,221.3 v3.5"/>
<path d="M402.61,221.3 v2"/>
<path d="M429.34,221.3 v3.5"/>
<path d="M456.07,221.3 v2"/>
<path d="M482.81,221.3 v3.5"/>
<path d="M509.54,221.3 v2"/>
<path d="M536.28,221.3 v3.5"/>
</g>
<g stroke="#000" stroke-width="1.1"><line x1="312.8" y1="155.1" x2="320.7" y2="151.3"/><line x1="312.8" y1="158.3" x2="320.7" y2="154.3"/></g>
<polyline fill="none" stroke="#22ee22" stroke-width="1.05" points="322.40,52.53 375.87,117.27 429.34,124.90 482.81,125.99 536.28,142.56"/>
<circle cx="322.40" cy="52.53" r="2.25" fill="#00e000" stroke="#006000" stroke-width="0.5"/>
<circle cx="375.87" cy="117.27" r="2.25" fill="#00e000" stroke="#006000" stroke-width="0.5"/>
<circle cx="429.34" cy="124.90" r="2.25" fill="#00e000" stroke="#006000" stroke-width="0.5"/>
<circle cx="482.81" cy="125.99" r="2.25" fill="#00e000" stroke="#006000" stroke-width="0.5"/>
<circle cx="536.28" cy="142.56" r="2.25" fill="#00e000" stroke="#006000" stroke-width="0.5"/>
<polyline fill="none" stroke="#ff2020" stroke-width="1.05" points="322.40,216.70 375.87,185.24 429.34,180.06 482.81,178.99 536.28,158.73"/>
<circle cx="322.40" cy="216.70" r="2.25" fill="#ff0000" stroke="#800000" stroke-width="0.5"/>
<circle cx="375.87" cy="185.24" r="2.25" fill="#ff0000" stroke="#800000" stroke-width="0.5"/>
<circle cx="429.34" cy="180.06" r="2.25" fill="#ff0000" stroke="#800000" stroke-width="0.5"/>
<circle cx="482.81" cy="178.99" r="2.25" fill="#ff0000" stroke="#800000" stroke-width="0.5"/>
<circle cx="536.28" cy="158.73" r="2.25" fill="#ff0000" stroke="#800000" stroke-width="0.5"/>
<polyline fill="none" stroke="#a850ff" stroke-width="1.05" points="322.40,216.70 375.87,201.18 429.34,190.84 482.81,206.79 536.28,204.85"/>
<rect x="320.45" y="214.85" width="3.9" height="3.7" fill="#8000ff" stroke="#400080" stroke-width="0.5"/>
<rect x="373.92" y="199.33" width="3.9" height="3.7" fill="#8000ff" stroke="#400080" stroke-width="0.5"/>
<rect x="427.39" y="188.99" width="3.9" height="3.7" fill="#8000ff" stroke="#400080" stroke-width="0.5"/>
<rect x="480.86" y="204.94" width="3.9" height="3.7" fill="#8000ff" stroke="#400080" stroke-width="0.5"/>
<rect x="534.33" y="203.00" width="3.9" height="3.7" fill="#8000ff" stroke="#400080" stroke-width="0.5"/>
<polyline fill="none" stroke="#60ff60" stroke-width="1.05" points="322.40,204.63 375.87,216.70 429.34,216.70 482.81,216.70 536.28,216.70"/>
<rect x="320.45" y="202.78" width="3.9" height="3.7" fill="#00e000" stroke="#006000" stroke-width="0.5"/>
<rect x="373.92" y="214.85" width="3.9" height="3.7" fill="#00e000" stroke="#006000" stroke-width="0.5"/>
<rect x="427.39" y="214.85" width="3.9" height="3.7" fill="#00e000" stroke="#006000" stroke-width="0.5"/>
<rect x="480.86" y="214.85" width="3.9" height="3.7" fill="#00e000" stroke="#006000" stroke-width="0.5"/>
<rect x="534.33" y="214.85" width="3.9" height="3.7" fill="#00e000" stroke="#006000" stroke-width="0.5"/>
<polyline fill="none" stroke="#30f0f0" stroke-width="1.05" points="322.40,216.70 375.87,213.90 429.34,209.59 482.81,212.39 536.28,211.96"/>
<rect x="320.45" y="214.85" width="3.9" height="3.7" fill="#00e0e0" stroke="#007070" stroke-width="0.5"/>
<rect x="373.92" y="212.05" width="3.9" height="3.7" fill="#00e0e0" stroke="#007070" stroke-width="0.5"/>
<rect x="427.39" y="207.74" width="3.9" height="3.7" fill="#00e0e0" stroke="#007070" stroke-width="0.5"/>
<rect x="480.86" y="210.54" width="3.9" height="3.7" fill="#00e0e0" stroke="#007070" stroke-width="0.5"/>
<rect x="534.33" y="210.11" width="3.9" height="3.7" fill="#00e0e0" stroke="#007070" stroke-width="0.5"/>
<polyline fill="none" stroke="#ffff20" stroke-width="1.05" points="322.40,216.70 375.87,211.31 429.34,201.40 482.81,184.81 536.28,191.70"/>
<rect x="320.45" y="214.85" width="3.9" height="3.7" fill="#ffff00" stroke="#8a8a00" stroke-width="0.5"/>
<rect x="373.92" y="209.46" width="3.9" height="3.7" fill="#ffff00" stroke="#8a8a00" stroke-width="0.5"/>
<rect x="427.39" y="199.55" width="3.9" height="3.7" fill="#ffff00" stroke="#8a8a00" stroke-width="0.5"/>
<rect x="480.86" y="182.96" width="3.9" height="3.7" fill="#ffff00" stroke="#8a8a00" stroke-width="0.5"/>
<rect x="534.33" y="189.85" width="3.9" height="3.7" fill="#ffff00" stroke="#8a8a00" stroke-width="0.5"/>
<polyline fill="none" stroke="#3030ff" stroke-width="1.05" points="322.40,216.70 375.87,201.83 429.34,216.70 482.81,216.70 536.28,216.70"/>
<circle cx="322.40" cy="216.70" r="2.25" fill="#0000f0" stroke="#000070" stroke-width="0.5"/>
<circle cx="375.87" cy="201.83" r="2.25" fill="#0000f0" stroke="#000070" stroke-width="0.5"/>
<circle cx="429.34" cy="216.70" r="2.25" fill="#0000f0" stroke="#000070" stroke-width="0.5"/>
<circle cx="482.81" cy="216.70" r="2.25" fill="#0000f0" stroke="#000070" stroke-width="0.5"/>
<circle cx="536.28" cy="216.70" r="2.25" fill="#0000f0" stroke="#000070" stroke-width="0.5"/>
<polyline fill="none" stroke="#ffa868" stroke-width="1.05" points="322.40,216.70 375.87,216.70 429.34,216.70 482.81,214.76 536.28,214.98"/>
<rect x="320.45" y="214.85" width="3.9" height="3.7" fill="#ff6a00" stroke="#803000" stroke-width="0.5"/>
<rect x="373.92" y="214.85" width="3.9" height="3.7" fill="#ff6a00" stroke="#803000" stroke-width="0.5"/>
<rect x="427.39" y="214.85" width="3.9" height="3.7" fill="#ff6a00" stroke="#803000" stroke-width="0.5"/>
<rect x="480.86" y="212.91" width="3.9" height="3.7" fill="#ff6a00" stroke="#803000" stroke-width="0.5"/>
<rect x="534.33" y="213.13" width="3.9" height="3.7" fill="#ff6a00" stroke="#803000" stroke-width="0.5"/>
<g>
<line x1="384.9" y1="38.2" x2="406.2" y2="38.2" stroke="#ffff20" stroke-width="1.2"/>
<rect x="393.65" y="36.30" width="3.8" height="3.7" fill="#ffff00" stroke="#8a8a00" stroke-width="0.4"/>
<line x1="384.9" y1="52.2" x2="406.2" y2="52.2" stroke="#3030ff" stroke-width="1.2"/>
<circle cx="395.55" cy="52.2" r="2.05" fill="#0000f0" stroke="#000070" stroke-width="0.4"/>
<line x1="384.9" y1="65.6" x2="406.2" y2="65.6" stroke="#ffa868" stroke-width="1.2"/>
<rect x="393.65" y="63.70" width="3.8" height="3.7" fill="#ff6a00" stroke="#803000" stroke-width="0.4"/>
<line x1="384.9" y1="82.8" x2="406.2" y2="82.8" stroke="#30f0f0" stroke-width="1.2"/>
<rect x="393.65" y="80.90" width="3.8" height="3.7" fill="#00e0e0" stroke="#007070" stroke-width="0.4"/>
<line x1="481.4" y1="39.0" x2="502.7" y2="39.0" stroke="#22ee22" stroke-width="1.2"/>
<circle cx="492.05" cy="39.0" r="2.05" fill="#00e000" stroke="#006000" stroke-width="0.4"/>
<line x1="481.4" y1="50.9" x2="502.7" y2="50.9" stroke="#60ff60" stroke-width="1.2"/>
<rect x="490.15" y="49.00" width="3.8" height="3.7" fill="#00e000" stroke="#006000" stroke-width="0.4"/>
<line x1="481.4" y1="62.9" x2="502.7" y2="62.9" stroke="#a850ff" stroke-width="1.2"/>
<rect x="490.15" y="61.00" width="3.8" height="3.7" fill="#8000ff" stroke="#400080" stroke-width="0.4"/>
<line x1="481.4" y1="76.5" x2="502.7" y2="76.5" stroke="#ff2020" stroke-width="1.2"/>
<circle cx="492.05" cy="76.5" r="2.05" fill="#ff0000" stroke="#800000" stroke-width="0.4"/>
</g>
<g fill="#000"><text font-family="Liberation Sans, Arial, sans-serif" font-weight="bold" font-size="14.300" textLength="12.059" lengthAdjust="spacingAndGlyphs" x="9.300" y="29.900">a)</text><text font-family="Liberation Sans, Arial, sans-serif" font-weight="bold" font-size="15.214" text-anchor="middle" textLength="16.640" lengthAdjust="spacingAndGlyphs" x="25.625" y="235.550">20</text><text font-family="Liberation Sans, Arial, sans-serif" font-weight="bold" font-size="15.214" text-anchor="middle" textLength="16.917" lengthAdjust="spacingAndGlyphs" x="72.800" y="235.550">30</text><text font-family="Liberation Sans, Arial, sans-serif" font-weight="bold" font-size="15.214" text-anchor="middle" textLength="16.636" lengthAdjust="spacingAndGlyphs" x="119.975" y="235.550">40</text><text font-family="Liberation Sans, Arial, sans-serif" font-weight="bold" font-size="15.214" text-anchor="middle" textLength="16.909" lengthAdjust="spacingAndGlyphs" x="166.900" y="235.550">50</text><text font-family="Liberation Sans, Arial, sans-serif" font-weight="bold" font-size="15.214" text-anchor="middle" textLength="16.905" lengthAdjust="spacingAndGlyphs" x="214.200" y="235.550">60</text><text font-family="Liberation Sans, Arial, sans-serif" font-weight="bold" font-size="15.214" text-anchor="middle" textLength="16.909" lengthAdjust="spacingAndGlyphs" x="261.250" y="235.550">70</text><text font-family="Liberation Sans, Arial, sans-serif" font-weight="bold" font-size="14.666" text-anchor="middle" textLength="81.501" lengthAdjust="spacingAndGlyphs" x="145.625" y="248.350">2<tspan font-weight="normal">θ</tspan>, degrees</text><text font-family="Liberation Sans, Arial, sans-serif" font-weight="bold" font-size="14.479" textLength="135.436" lengthAdjust="spacingAndGlyphs" transform="translate(16.550,189.850) rotate(-90)">Intensity, arb.units</text><text font-family="Liberation Sans, Arial, sans-serif" font-weight="bold" font-size="15.059" textLength="7.808" lengthAdjust="spacingAndGlyphs" x="261.950" y="67.500">4</text><text font-family="Liberation Sans, Arial, sans-serif" font-weight="bold" font-size="14.700" textLength="7.314" lengthAdjust="spacingAndGlyphs" x="262.650" y="133.600">3</text><text font-family="Liberation Sans, Arial, sans-serif" font-weight="bold" font-size="15.924" textLength="7.900" lengthAdjust="spacingAndGlyphs" x="260.350" y="167.100">2</text><text font-family="Liberation Sans, Arial, sans-serif" font-weight="bold" font-size="15.492" textLength="5.852" lengthAdjust="spacingAndGlyphs" x="260.300" y="202.050">1</text><text font-family="Liberation Sans, Arial, sans-serif" font-weight="bold" font-size="15.319" textLength="13.447" lengthAdjust="spacingAndGlyphs" x="270.800" y="42.000">b)</text><text font-family="Liberation Sans, Arial, sans-serif" font-weight="bold" font-size="14.517" text-anchor="end" textLength="24.287" lengthAdjust="spacingAndGlyphs" x="310.800" y="44.500">100</text><text font-family="Liberation Sans, Arial, sans-serif" font-weight="bold" font-size="15.073" text-anchor="end" textLength="16.692" lengthAdjust="spacingAndGlyphs" x="310.900" y="88.050">80</text><text font-family="Liberation Sans, Arial, sans-serif" font-weight="bold" font-size="15.073" text-anchor="end" textLength="16.688" lengthAdjust="spacingAndGlyphs" x="310.900" y="131.550">60</text><text font-family="Liberation Sans, Arial, sans-serif" font-weight="bold" font-size="15.073" text-anchor="end" textLength="16.692" lengthAdjust="spacingAndGlyphs" x="310.900" y="177.850">20</text><text font-family="Liberation Sans, Arial, sans-serif" font-weight="bold" font-size="14.796" text-anchor="end" textLength="7.957" lengthAdjust="spacingAndGlyphs" x="310.850" y="220.650">0</text><text font-family="Liberation Sans, Arial, sans-serif" font-weight="bold" font-size="14.934" text-anchor="middle" textLength="8.066" lengthAdjust="spacingAndGlyphs" x="322.425" y="238.450">0</text><text font-family="Liberation Sans, Arial, sans-serif" font-weight="bold" font-size="14.934" text-anchor="middle" textLength="17.087" lengthAdjust="spacingAndGlyphs" x="375.715" y="238.450">10</text><text font-family="Liberation Sans, Arial, sans-serif" font-weight="bold" font-size="14.934" text-anchor="middle" textLength="16.798" lengthAdjust="spacingAndGlyphs" x="429.380" y="238.450">20</text><text font-family="Liberation Sans, Arial, sans-serif" font-weight="bold" font-size="14.934" text-anchor="middle" textLength="16.531" lengthAdjust="spacingAndGlyphs" x="483.045" y="238.450">30</text><text font-family="Liberation Sans, Arial, sans-serif" font-weight="bold" font-size="14.934" text-anchor="middle" textLength="16.273" lengthAdjust="spacingAndGlyphs" x="536.460" y="238.450">40</text><text font-family="Liberation Sans, Arial, sans-serif" font-weight="bold" font-size="14.700" textLength="138.937" lengthAdjust="spacingAndGlyphs" x="360.000" y="251.500">Oxidation time, min</text><text font-family="Liberation Sans, Arial, sans-serif" font-weight="bold" font-size="15.000" textLength="143.871" lengthAdjust="spacingAndGlyphs" transform="translate(290.950,203.000) rotate(-90)">Phase content, wt.%</text><text font-family="Liberation Serif, Times New Roman, serif" font-weight="bold" font-size="9.500" textLength="67.266" lengthAdjust="spacingAndGlyphs" stroke="#000" stroke-width="0.22" x="408.500" y="41.250">ZrO<tspan font-size="6.5" dy="2">2</tspan><tspan dy="-2"> monoclinic</tspan></text><text font-family="Liberation Serif, Times New Roman, serif" font-weight="bold" font-size="9.500" textLength="20.791" lengthAdjust="spacingAndGlyphs" stroke="#000" stroke-width="0.22" x="408.500" y="55.100">Cr<tspan font-size="6.5" dy="2">2</tspan><tspan dy="-2">N</tspan></text><text font-family="Liberation Serif, Times New Roman, serif" font-weight="bold" font-size="9.500" textLength="63.647" lengthAdjust="spacingAndGlyphs" stroke="#000" stroke-width="0.22" x="409.000" y="69.850">ZrO<tspan font-size="6.5" dy="2">2</tspan><tspan dy="-2"> tetragonal</tspan></text><text font-family="Liberation Serif, Times New Roman, serif" font-weight="bold" font-size="9.500" textLength="16.540" lengthAdjust="spacingAndGlyphs" stroke="#000" stroke-width="0.22" x="409.000" y="86.500">ZrN</text><text font-family="Liberation Serif, Times New Roman, serif" font-weight="bold" font-size="9.500" textLength="11.251" lengthAdjust="spacingAndGlyphs" stroke="#000" stroke-width="0.22" x="504.650" y="42.850">Cr</text><text font-family="Liberation Serif, Times New Roman, serif" font-weight="bold" font-size="9.500" textLength="10.679" lengthAdjust="spacingAndGlyphs" stroke="#000" stroke-width="0.22" x="504.500" y="54.350">Zr</text><text font-family="Liberation Serif, Times New Roman, serif" font-weight="bold" font-size="9.500" textLength="20.945" lengthAdjust="spacingAndGlyphs" stroke="#000" stroke-width="0.22" x="504.850" y="66.050">Zr<tspan font-size="6.5" dy="2">3</tspan><tspan dy="-2">O</tspan></text><text font-family="Liberation Serif, Times New Roman, serif" font-weight="bold" font-size="9.500" textLength="25.125" lengthAdjust="spacingAndGlyphs" stroke="#000" stroke-width="0.22" x="504.850" y="80.250">Cr<tspan font-size="6.5" dy="2">2</tspan><tspan dy="-2">O</tspan><tspan font-size="6.5" dy="2">3</tspan></text></g>
<rect x="534.6" y="115.6" width="1.2" height="1.2" fill="#c8c8c8"/>
</svg></body></html>
